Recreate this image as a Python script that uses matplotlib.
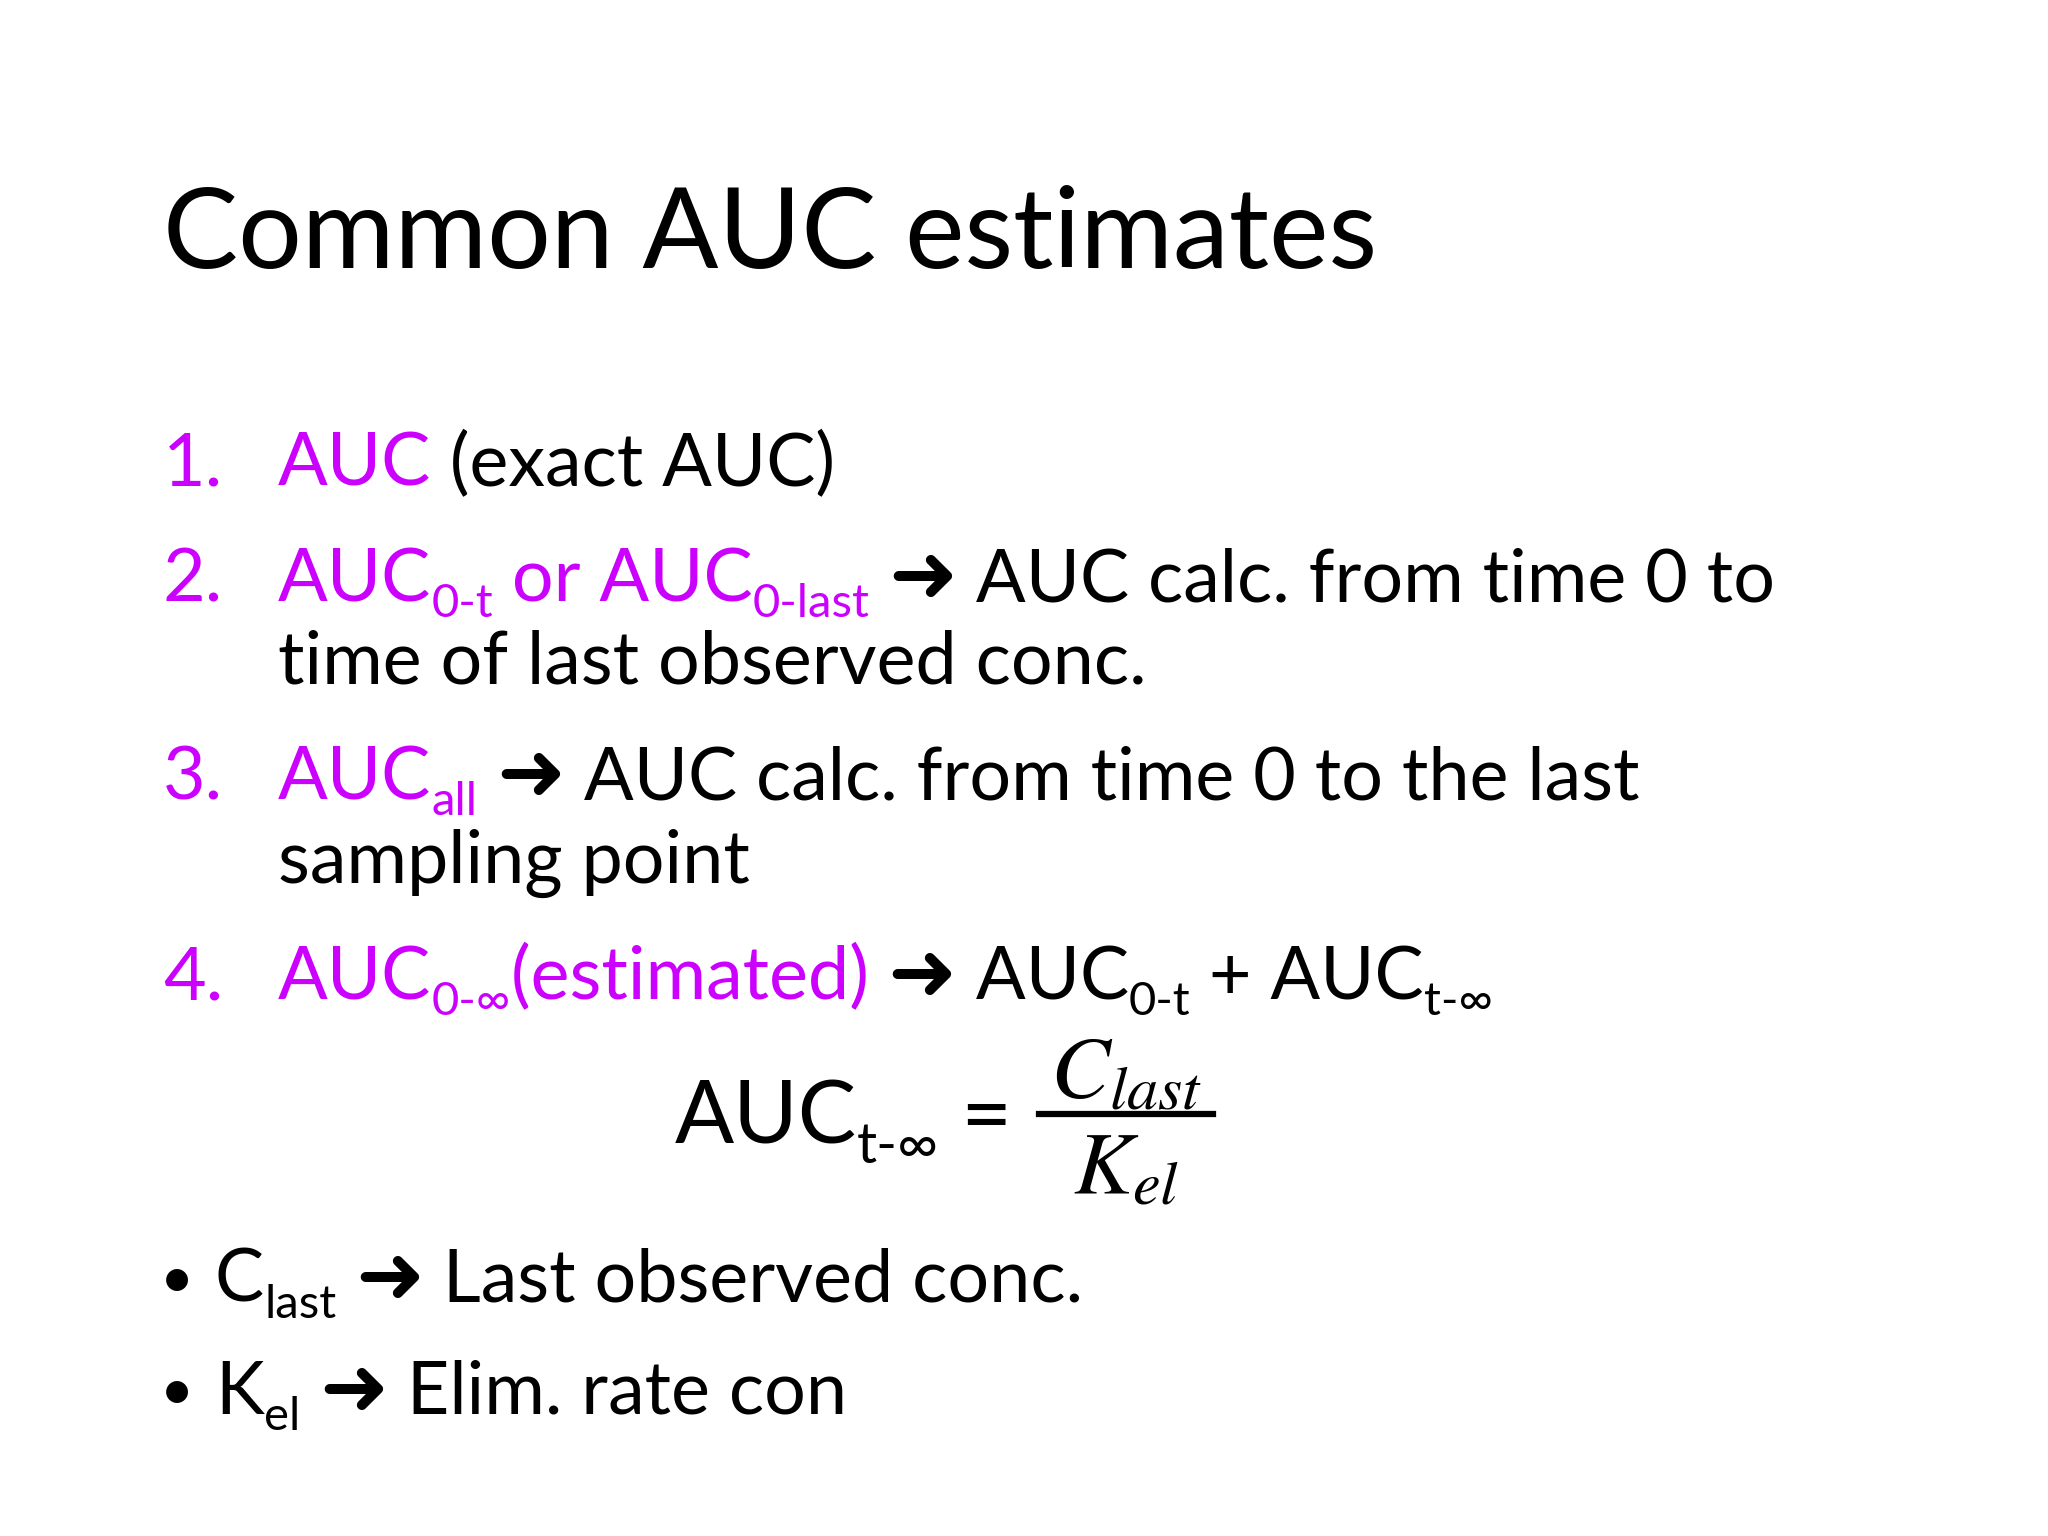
import matplotlib
matplotlib.use("Agg")
import matplotlib.pyplot as plt
from matplotlib.transforms import IdentityTransform
from matplotlib.lines import Line2D

W, H = 2048, 1536
PURPLE = "#CC00FF"
BLACK = "#000000"
FONT = ["Lato", "DejaVu Sans"]
ARROW = "\u279c"

title = "Common AUC estimates"

# numbered items: (baseline y, list of runs); run = (text, color, kind)
numbers = ["1.", "2.", "3.", "4."]
item_lines = [
    (486, [("AUC", PURPLE, "n"), (" (exact AUC)", BLACK, "n")]),
    (601, [("AUC", PURPLE, "n"), ("0-t", PURPLE, "s"), (" or AUC", PURPLE, "n"),
           ("0-last", PURPLE, "s"), (" ", BLACK, "n"), (ARROW, BLACK, "a"),
           (" AUC calc. from time 0 to", BLACK, "n")]),
    (683, [("time of last observed conc.", BLACK, "n")]),
    (799, [("AUC", PURPLE, "n"), ("all", PURPLE, "s"), (" ", BLACK, "n"), (ARROW, BLACK, "a"),
           (" AUC calc. from time 0 to the last", BLACK, "n")]),
    (883, [("sampling point", BLACK, "n")]),
    (999, [("AUC", PURPLE, "n"), ("0-\u221e", PURPLE, "s"), ("(estimated) ", PURPLE, "n"),
           (ARROW, BLACK, "a"), (" AUC", BLACK, "n"), ("0-t", BLACK, "s"),
           (" + AUC", BLACK, "n"), ("t-\u221e", BLACK, "s")]),
]
number_rows = [486, 601, 799, 999]

bullet_lines = [
    (1302, [("C", BLACK, "n"), ("last", BLACK, "s"), (" ", BLACK, "n"), (ARROW, BLACK, "a"),
            (" Last observed conc.", BLACK, "n")]),
    (1414, [("K", BLACK, "n"), ("el", BLACK, "s"), (" ", BLACK, "n"), (ARROW, BLACK, "a"),
            (" Elim. rate con", BLACK, "n")]),
]

eq_left = [("AUC", BLACK, "n"), ("t-\u221e", BLACK, "s"), (" = ", BLACK, "n")]
numerator = r"$C_{last}$"
denominator = r"$K_{el}$"

plt.rcParams["mathtext.fontset"] = "stix"
fig = plt.figure(figsize=(W / 100, H / 100), dpi=100)
fig.patch.set_facecolor("white")
renderer = fig.canvas.get_renderer()
tr = IdentityTransform()


def put(x, y, s, size, color, **kw):
    t = fig.text(x, H - y, s, transform=tr, fontsize=size, color=color,
                 va="baseline", ha="left", **kw)
    return t.get_window_extent(renderer).width


def runs(x, y, parts, size):
    for text, color, kind in parts:
        if kind == "s":
            w = put(x, y + size * 0.30, text, size * 0.64, color, family=FONT)
        elif kind == "a":
            w = put(x, y + size * 0.02, text, size * 1.12, color,
                    family=["DejaVu Sans"])
        else:
            w = put(x, y, text, size, color, family=FONT)
        x += w
    return x


put(163, 268, title, 81, BLACK, family=FONT, fontweight="normal")

BODY = 53
for num, yy in zip(numbers, number_rows):
    put(163, yy, num, BODY, PURPLE, family=FONT)
for yy, parts in item_lines:
    runs(278, yy, parts, BODY)

# equation
end = runs(675, 1144, eq_left, 63)
bar_x0, bar_x1, bar_y = end + 4, end + 178, 1114
fig.add_artist(Line2D([bar_x0, bar_x1], [H - bar_y, H - bar_y], transform=tr,
                      color=BLACK, lw=4.5))
mid = (bar_x0 + bar_x1) / 2
fig.text(mid, H - 1098, numerator, transform=tr, fontsize=64, ha="center",
         va="baseline", color=BLACK)
fig.text(mid, H - 1193, denominator, transform=tr, fontsize=64, ha="center",
         va="baseline", color=BLACK)

for yy, parts in bullet_lines:
    put(160, yy - 4, "\u2022", BODY * 0.8, BLACK, family=FONT)
    runs(215, yy, parts, BODY)

fig.savefig("out.png", dpi=100, facecolor="white")
